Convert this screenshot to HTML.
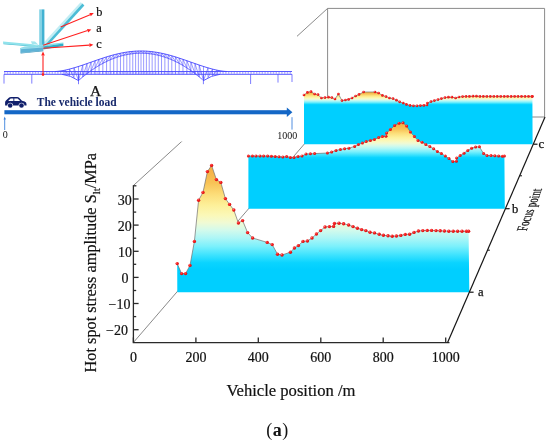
<!DOCTYPE html>
<html><head><meta charset="utf-8"><title>Figure (a)</title>
<style>html,body{margin:0;padding:0;background:#fff}body{width:550px;height:442px;overflow:hidden}</style></head>
<body>
<svg width="550" height="442" viewBox="0 0 550 442" style="display:block;font-family:'Liberation Serif',serif">
<rect width="550" height="442" fill="#fff"/>
<radialGradient id="dot" cx="0.36" cy="0.34" r="0.7"><stop offset="0" stop-color="#ff7a7a"/><stop offset="0.35" stop-color="#f62222"/><stop offset="1" stop-color="#d60c0c"/></radialGradient>
<g stroke="#8a8a8a" stroke-width="1" fill="none">
<path d="M133.4,185.5 L327.6,8.4 L544.6,8.4 L544.6,117 L532,117"/>
<path d="M327.6,8.4 L327.6,96"/>
<path d="M133.4,342.5 L327.6,117"/>
</g>
<linearGradient id="gc" gradientUnits="userSpaceOnUse" x1="0" y1="91.6" x2="0" y2="105.8">
<stop offset="0.00" stop-color="#f5ab40"/>
<stop offset="0.16" stop-color="#f8c256"/>
<stop offset="0.27" stop-color="#fcde7a"/>
<stop offset="0.37" stop-color="#fdf09a"/>
<stop offset="0.46" stop-color="#fbf8b8"/>
<stop offset="0.53" stop-color="#f0fad4"/>
<stop offset="0.60" stop-color="#d2faec"/>
<stop offset="0.67" stop-color="#aef6f6"/>
<stop offset="0.75" stop-color="#7af0fc"/>
<stop offset="0.83" stop-color="#3ce2fe"/>
<stop offset="0.90" stop-color="#0ad4ff"/>
<stop offset="0.96" stop-color="#00cfff"/>
<stop offset="1.00" stop-color="#00cfff"/>
</linearGradient>
<path d="M304.0,144.2 L304.0,95.0 L307.4,92.4 L311.0,91.6 L314.6,94.0 L318.0,94.6 L321.4,98.0 L325.0,97.6 L328.4,97.2 L331.8,97.6 L335.0,99.0 L338.4,94.0 L342.0,100.6 L345.4,100.0 L348.6,99.4 L352.0,98.0 L355.6,96.0 L359.0,94.4 L363.6,92.0 L375.0,92.0 L378.6,93.0 L382.4,95.4 L386.0,96.6 L389.4,98.0 L393.0,98.6 L396.4,100.2 L399.6,101.8 L403.2,103.1 L406.4,104.4 L410.0,105.4 L413.4,105.8 L417.0,105.8 L420.4,105.6 L423.8,105.4 L427.0,105.0 L427.4,103.0 L431.0,101.6 L434.4,100.6 L438.0,99.6 L441.4,98.6 L445.0,97.6 L448.4,97.2 L452.0,97.2 L455.6,98.0 L459.0,97.0 L462.6,96.6 L466.0,96.4 L469.4,96.4 L473.0,96.2 L476.4,96.2 L479.9,96.4 L483.3,96.4 L486.8,96.4 L490.3,96.4 L493.8,96.4 L497.2,96.4 L500.7,96.4 L504.2,96.4 L507.6,96.4 L511.1,96.4 L514.6,96.4 L518.0,96.4 L521.5,96.4 L525.0,96.4 L528.5,96.4 L531.9,96.4 L532.4,96.4 L532.6,144.2 Z" fill="url(#gc)"/>
<polyline points="304.0,95.0 307.4,92.4 311.0,91.6 314.6,94.0 318.0,94.6 321.4,98.0 325.0,97.6 328.4,97.2 331.8,97.6 335.0,99.0 338.4,94.0 342.0,100.6 345.4,100.0 348.6,99.4 352.0,98.0 355.6,96.0 359.0,94.4 363.6,92.0 375.0,92.0 378.6,93.0 382.4,95.4 386.0,96.6 389.4,98.0 393.0,98.6 396.4,100.2 399.6,101.8 403.2,103.1 406.4,104.4 410.0,105.4 413.4,105.8 417.0,105.8 420.4,105.6 423.8,105.4 427.0,105.0 427.4,103.0 431.0,101.6 434.4,100.6 438.0,99.6 441.4,98.6 445.0,97.6 448.4,97.2 452.0,97.2 455.6,98.0 459.0,97.0 462.6,96.6 466.0,96.4 469.4,96.4 473.0,96.2 476.4,96.2 479.9,96.4 483.3,96.4 486.8,96.4 490.3,96.4 493.8,96.4 497.2,96.4 500.7,96.4 504.2,96.4 507.6,96.4 511.1,96.4 514.6,96.4 518.0,96.4 521.5,96.4 525.0,96.4 528.5,96.4 531.9,96.4 532.4,96.4" fill="none" stroke="#707070" stroke-width="0.7"/>
<g fill="url(#dot)">
<circle cx="304.0" cy="95.0" r="1.35"/>
<circle cx="307.4" cy="92.4" r="1.35"/>
<circle cx="311.0" cy="91.6" r="1.35"/>
<circle cx="314.6" cy="94.0" r="1.35"/>
<circle cx="318.0" cy="94.6" r="1.35"/>
<circle cx="321.4" cy="98.0" r="1.35"/>
<circle cx="325.0" cy="97.6" r="1.35"/>
<circle cx="328.4" cy="97.2" r="1.35"/>
<circle cx="331.8" cy="97.6" r="1.35"/>
<circle cx="335.0" cy="99.0" r="1.35"/>
<circle cx="338.4" cy="94.0" r="1.35"/>
<circle cx="342.0" cy="100.6" r="1.35"/>
<circle cx="345.4" cy="100.0" r="1.35"/>
<circle cx="348.6" cy="99.4" r="1.35"/>
<circle cx="352.0" cy="98.0" r="1.35"/>
<circle cx="355.6" cy="96.0" r="1.35"/>
<circle cx="359.0" cy="94.4" r="1.35"/>
<circle cx="363.6" cy="92.0" r="1.35"/>
<circle cx="375.0" cy="92.0" r="1.35"/>
<circle cx="378.6" cy="93.0" r="1.35"/>
<circle cx="382.4" cy="95.4" r="1.35"/>
<circle cx="386.0" cy="96.6" r="1.35"/>
<circle cx="389.4" cy="98.0" r="1.35"/>
<circle cx="393.0" cy="98.6" r="1.35"/>
<circle cx="396.4" cy="100.2" r="1.35"/>
<circle cx="399.6" cy="101.8" r="1.35"/>
<circle cx="403.2" cy="103.1" r="1.35"/>
<circle cx="406.4" cy="104.4" r="1.35"/>
<circle cx="410.0" cy="105.4" r="1.35"/>
<circle cx="413.4" cy="105.8" r="1.35"/>
<circle cx="417.0" cy="105.8" r="1.35"/>
<circle cx="420.4" cy="105.6" r="1.35"/>
<circle cx="423.8" cy="105.4" r="1.35"/>
<circle cx="427.0" cy="105.0" r="1.35"/>
<circle cx="427.4" cy="103.0" r="1.35"/>
<circle cx="431.0" cy="101.6" r="1.35"/>
<circle cx="434.4" cy="100.6" r="1.35"/>
<circle cx="438.0" cy="99.6" r="1.35"/>
<circle cx="441.4" cy="98.6" r="1.35"/>
<circle cx="445.0" cy="97.6" r="1.35"/>
<circle cx="448.4" cy="97.2" r="1.35"/>
<circle cx="452.0" cy="97.2" r="1.35"/>
<circle cx="455.6" cy="98.0" r="1.35"/>
<circle cx="459.0" cy="97.0" r="1.35"/>
<circle cx="462.6" cy="96.6" r="1.35"/>
<circle cx="466.0" cy="96.4" r="1.35"/>
<circle cx="469.4" cy="96.4" r="1.35"/>
<circle cx="473.0" cy="96.2" r="1.35"/>
<circle cx="476.4" cy="96.2" r="1.35"/>
<circle cx="479.9" cy="96.4" r="1.35"/>
<circle cx="483.3" cy="96.4" r="1.35"/>
<circle cx="486.8" cy="96.4" r="1.35"/>
<circle cx="490.3" cy="96.4" r="1.35"/>
<circle cx="493.8" cy="96.4" r="1.35"/>
<circle cx="497.2" cy="96.4" r="1.35"/>
<circle cx="500.7" cy="96.4" r="1.35"/>
<circle cx="504.2" cy="96.4" r="1.35"/>
<circle cx="507.6" cy="96.4" r="1.35"/>
<circle cx="511.1" cy="96.4" r="1.35"/>
<circle cx="514.6" cy="96.4" r="1.35"/>
<circle cx="518.0" cy="96.4" r="1.35"/>
<circle cx="521.5" cy="96.4" r="1.35"/>
<circle cx="525.0" cy="96.4" r="1.35"/>
<circle cx="528.5" cy="96.4" r="1.35"/>
<circle cx="531.9" cy="96.4" r="1.35"/>
<circle cx="532.4" cy="96.4" r="1.35"/>
</g>
<linearGradient id="gb" gradientUnits="userSpaceOnUse" x1="0" y1="123.0" x2="0" y2="161.4">
<stop offset="0.00" stop-color="#f5ab40"/>
<stop offset="0.16" stop-color="#f8c256"/>
<stop offset="0.27" stop-color="#fcde7a"/>
<stop offset="0.37" stop-color="#fdf09a"/>
<stop offset="0.46" stop-color="#fbf8b8"/>
<stop offset="0.53" stop-color="#f0fad4"/>
<stop offset="0.60" stop-color="#d2faec"/>
<stop offset="0.67" stop-color="#aef6f6"/>
<stop offset="0.75" stop-color="#7af0fc"/>
<stop offset="0.83" stop-color="#3ce2fe"/>
<stop offset="0.90" stop-color="#0ad4ff"/>
<stop offset="0.96" stop-color="#00cfff"/>
<stop offset="1.00" stop-color="#00cfff"/>
</linearGradient>
<path d="M248.4,208.7 L248.4,156.0 L252.4,156.0 L256.0,156.0 L260.0,156.0 L263.6,156.0 L267.6,156.0 L271.4,156.2 L275.2,156.4 L279.0,156.8 L282.8,157.0 L286.6,156.6 L290.4,157.4 L294.0,157.4 L298.0,156.4 L302.0,156.0 L306.0,154.0 L310.4,153.8 L314.6,153.6 L327.4,153.0 L331.6,152.0 L336.0,150.4 L340.4,149.5 L344.6,148.7 L348.9,148.2 L354.6,146.4 L358.4,144.4 L362.4,143.0 L366.2,141.6 L370.4,140.4 L374.4,139.4 L378.6,137.6 L382.4,136.6 L386.0,136.2 L386.6,133.0 L390.4,129.4 L394.6,125.4 L399.0,123.2 L403.0,122.8 L406.6,126.0 L410.4,132.0 L414.4,136.6 L418.0,140.4 L422.0,142.2 L425.8,144.4 L429.8,146.6 L433.6,148.8 L437.4,151.4 L441.4,153.6 L445.3,156.0 L449.0,158.6 L452.8,161.4 L456.4,161.2 L456.6,158.0 L460.2,155.6 L464.0,153.2 L467.8,150.4 L471.6,148.2 L475.6,147.0 L479.4,146.8 L483.6,153.6 L487.0,155.6 L491.0,155.6 L494.8,155.8 L498.6,156.0 L502.4,156.2 L504.4,156.0 L504.8,208.7 Z" fill="url(#gb)"/>
<polyline points="248.4,156.0 252.4,156.0 256.0,156.0 260.0,156.0 263.6,156.0 267.6,156.0 271.4,156.2 275.2,156.4 279.0,156.8 282.8,157.0 286.6,156.6 290.4,157.4 294.0,157.4 298.0,156.4 302.0,156.0 306.0,154.0 310.4,153.8 314.6,153.6 327.4,153.0 331.6,152.0 336.0,150.4 340.4,149.5 344.6,148.7 348.9,148.2 354.6,146.4 358.4,144.4 362.4,143.0 366.2,141.6 370.4,140.4 374.4,139.4 378.6,137.6 382.4,136.6 386.0,136.2 386.6,133.0 390.4,129.4 394.6,125.4 399.0,123.2 403.0,122.8 406.6,126.0 410.4,132.0 414.4,136.6 418.0,140.4 422.0,142.2 425.8,144.4 429.8,146.6 433.6,148.8 437.4,151.4 441.4,153.6 445.3,156.0 449.0,158.6 452.8,161.4 456.4,161.2 456.6,158.0 460.2,155.6 464.0,153.2 467.8,150.4 471.6,148.2 475.6,147.0 479.4,146.8 483.6,153.6 487.0,155.6 491.0,155.6 494.8,155.8 498.6,156.0 502.4,156.2 504.4,156.0" fill="none" stroke="#707070" stroke-width="0.7"/>
<g fill="url(#dot)">
<circle cx="248.4" cy="156.0" r="1.50"/>
<circle cx="252.4" cy="156.0" r="1.50"/>
<circle cx="256.0" cy="156.0" r="1.50"/>
<circle cx="260.0" cy="156.0" r="1.50"/>
<circle cx="263.6" cy="156.0" r="1.50"/>
<circle cx="267.6" cy="156.0" r="1.50"/>
<circle cx="271.4" cy="156.2" r="1.50"/>
<circle cx="275.2" cy="156.4" r="1.50"/>
<circle cx="279.0" cy="156.8" r="1.50"/>
<circle cx="282.8" cy="157.0" r="1.50"/>
<circle cx="286.6" cy="156.6" r="1.50"/>
<circle cx="290.4" cy="157.4" r="1.50"/>
<circle cx="294.0" cy="157.4" r="1.50"/>
<circle cx="298.0" cy="156.4" r="1.50"/>
<circle cx="302.0" cy="156.0" r="1.50"/>
<circle cx="306.0" cy="154.0" r="1.50"/>
<circle cx="310.4" cy="153.8" r="1.50"/>
<circle cx="314.6" cy="153.6" r="1.50"/>
<circle cx="327.4" cy="153.0" r="1.50"/>
<circle cx="331.6" cy="152.0" r="1.50"/>
<circle cx="336.0" cy="150.4" r="1.50"/>
<circle cx="340.4" cy="149.5" r="1.50"/>
<circle cx="344.6" cy="148.7" r="1.50"/>
<circle cx="348.9" cy="148.2" r="1.50"/>
<circle cx="354.6" cy="146.4" r="1.50"/>
<circle cx="358.4" cy="144.4" r="1.50"/>
<circle cx="362.4" cy="143.0" r="1.50"/>
<circle cx="366.2" cy="141.6" r="1.50"/>
<circle cx="370.4" cy="140.4" r="1.50"/>
<circle cx="374.4" cy="139.4" r="1.50"/>
<circle cx="378.6" cy="137.6" r="1.50"/>
<circle cx="382.4" cy="136.6" r="1.50"/>
<circle cx="386.0" cy="136.2" r="1.50"/>
<circle cx="386.6" cy="133.0" r="1.50"/>
<circle cx="390.4" cy="129.4" r="1.50"/>
<circle cx="394.6" cy="125.4" r="1.50"/>
<circle cx="399.0" cy="123.2" r="1.50"/>
<circle cx="403.0" cy="122.8" r="1.50"/>
<circle cx="406.6" cy="126.0" r="1.50"/>
<circle cx="410.4" cy="132.0" r="1.50"/>
<circle cx="414.4" cy="136.6" r="1.50"/>
<circle cx="418.0" cy="140.4" r="1.50"/>
<circle cx="422.0" cy="142.2" r="1.50"/>
<circle cx="425.8" cy="144.4" r="1.50"/>
<circle cx="429.8" cy="146.6" r="1.50"/>
<circle cx="433.6" cy="148.8" r="1.50"/>
<circle cx="437.4" cy="151.4" r="1.50"/>
<circle cx="441.4" cy="153.6" r="1.50"/>
<circle cx="445.3" cy="156.0" r="1.50"/>
<circle cx="449.0" cy="158.6" r="1.50"/>
<circle cx="452.8" cy="161.4" r="1.50"/>
<circle cx="456.4" cy="161.2" r="1.50"/>
<circle cx="456.6" cy="158.0" r="1.50"/>
<circle cx="460.2" cy="155.6" r="1.50"/>
<circle cx="464.0" cy="153.2" r="1.50"/>
<circle cx="467.8" cy="150.4" r="1.50"/>
<circle cx="471.6" cy="148.2" r="1.50"/>
<circle cx="475.6" cy="147.0" r="1.50"/>
<circle cx="479.4" cy="146.8" r="1.50"/>
<circle cx="483.6" cy="153.6" r="1.50"/>
<circle cx="487.0" cy="155.6" r="1.50"/>
<circle cx="491.0" cy="155.6" r="1.50"/>
<circle cx="494.8" cy="155.8" r="1.50"/>
<circle cx="498.6" cy="156.0" r="1.50"/>
<circle cx="502.4" cy="156.2" r="1.50"/>
<circle cx="504.4" cy="156.0" r="1.50"/>
</g>
<linearGradient id="ga" gradientUnits="userSpaceOnUse" x1="0" y1="165.4" x2="0" y2="273.6">
<stop offset="0.00" stop-color="#f5ab40"/>
<stop offset="0.16" stop-color="#f8c256"/>
<stop offset="0.27" stop-color="#fcde7a"/>
<stop offset="0.37" stop-color="#fdf09a"/>
<stop offset="0.46" stop-color="#fbf8b8"/>
<stop offset="0.53" stop-color="#f0fad4"/>
<stop offset="0.60" stop-color="#d2faec"/>
<stop offset="0.67" stop-color="#aef6f6"/>
<stop offset="0.75" stop-color="#7af0fc"/>
<stop offset="0.83" stop-color="#3ce2fe"/>
<stop offset="0.90" stop-color="#0ad4ff"/>
<stop offset="0.96" stop-color="#00cfff"/>
<stop offset="1.00" stop-color="#00cfff"/>
</linearGradient>
<path d="M177.3,292.2 L177.2,263.6 L181.6,273.6 L185.6,273.6 L190.0,265.4 L194.4,241.4 L198.6,200.2 L203.0,192.4 L207.4,171.6 L211.6,165.4 L216.4,179.6 L220.8,182.4 L225.4,198.6 L229.6,204.4 L233.8,210.0 L238.4,223.0 L242.6,220.6 L247.6,232.6 L252.6,238.0 L267.2,242.4 L272.2,244.6 L277.5,254.2 L282.0,255.0 L290.4,252.2 L294.4,248.0 L298.4,245.6 L303.0,241.4 L307.4,241.0 L312.0,238.0 L316.4,234.0 L320.6,230.6 L325.0,227.0 L329.4,226.6 L333.6,226.4 L334.4,223.4 L339.0,223.2 L343.6,223.8 L348.6,225.0 L353.0,226.6 L357.4,228.2 L361.6,229.6 L365.8,230.6 L370.0,232.3 L374.5,232.9 L379.2,234.3 L383.4,235.2 L388.0,235.8 L392.2,236.2 L396.4,236.0 L400.8,235.4 L405.2,234.4 L409.6,234.2 L414.0,232.4 L418.4,231.0 L422.8,230.6 L427.2,230.4 L431.6,230.4 L436.0,230.6 L440.2,230.8 L444.4,231.0 L448.8,231.2 L453.2,231.2 L457.6,231.2 L462.0,231.2 L466.4,231.2 L468.6,231.2 L469.3,292.2 Z" fill="url(#ga)"/>
<polyline points="177.2,263.6 181.6,273.6 185.6,273.6 190.0,265.4 194.4,241.4 198.6,200.2 203.0,192.4 207.4,171.6 211.6,165.4 216.4,179.6 220.8,182.4 225.4,198.6 229.6,204.4 233.8,210.0 238.4,223.0 242.6,220.6 247.6,232.6 252.6,238.0 267.2,242.4 272.2,244.6 277.5,254.2 282.0,255.0 290.4,252.2 294.4,248.0 298.4,245.6 303.0,241.4 307.4,241.0 312.0,238.0 316.4,234.0 320.6,230.6 325.0,227.0 329.4,226.6 333.6,226.4 334.4,223.4 339.0,223.2 343.6,223.8 348.6,225.0 353.0,226.6 357.4,228.2 361.6,229.6 365.8,230.6 370.0,232.3 374.5,232.9 379.2,234.3 383.4,235.2 388.0,235.8 392.2,236.2 396.4,236.0 400.8,235.4 405.2,234.4 409.6,234.2 414.0,232.4 418.4,231.0 422.8,230.6 427.2,230.4 431.6,230.4 436.0,230.6 440.2,230.8 444.4,231.0 448.8,231.2 453.2,231.2 457.6,231.2 462.0,231.2 466.4,231.2 468.6,231.2" fill="none" stroke="#707070" stroke-width="0.7"/>
<g fill="url(#dot)">
<circle cx="177.2" cy="263.6" r="1.70"/>
<circle cx="181.6" cy="273.6" r="1.70"/>
<circle cx="185.6" cy="273.6" r="1.70"/>
<circle cx="190.0" cy="265.4" r="1.70"/>
<circle cx="194.4" cy="241.4" r="1.70"/>
<circle cx="198.6" cy="200.2" r="1.70"/>
<circle cx="203.0" cy="192.4" r="1.70"/>
<circle cx="207.4" cy="171.6" r="1.70"/>
<circle cx="211.6" cy="165.4" r="1.70"/>
<circle cx="216.4" cy="179.6" r="1.70"/>
<circle cx="220.8" cy="182.4" r="1.70"/>
<circle cx="225.4" cy="198.6" r="1.70"/>
<circle cx="229.6" cy="204.4" r="1.70"/>
<circle cx="233.8" cy="210.0" r="1.70"/>
<circle cx="238.4" cy="223.0" r="1.70"/>
<circle cx="242.6" cy="220.6" r="1.70"/>
<circle cx="247.6" cy="232.6" r="1.70"/>
<circle cx="252.6" cy="238.0" r="1.70"/>
<circle cx="267.2" cy="242.4" r="1.70"/>
<circle cx="272.2" cy="244.6" r="1.70"/>
<circle cx="277.5" cy="254.2" r="1.70"/>
<circle cx="282.0" cy="255.0" r="1.70"/>
<circle cx="290.4" cy="252.2" r="1.70"/>
<circle cx="294.4" cy="248.0" r="1.70"/>
<circle cx="298.4" cy="245.6" r="1.70"/>
<circle cx="303.0" cy="241.4" r="1.70"/>
<circle cx="307.4" cy="241.0" r="1.70"/>
<circle cx="312.0" cy="238.0" r="1.70"/>
<circle cx="316.4" cy="234.0" r="1.70"/>
<circle cx="320.6" cy="230.6" r="1.70"/>
<circle cx="325.0" cy="227.0" r="1.70"/>
<circle cx="329.4" cy="226.6" r="1.70"/>
<circle cx="333.6" cy="226.4" r="1.70"/>
<circle cx="334.4" cy="223.4" r="1.70"/>
<circle cx="339.0" cy="223.2" r="1.70"/>
<circle cx="343.6" cy="223.8" r="1.70"/>
<circle cx="348.6" cy="225.0" r="1.70"/>
<circle cx="353.0" cy="226.6" r="1.70"/>
<circle cx="357.4" cy="228.2" r="1.70"/>
<circle cx="361.6" cy="229.6" r="1.70"/>
<circle cx="365.8" cy="230.6" r="1.70"/>
<circle cx="370.0" cy="232.3" r="1.70"/>
<circle cx="374.5" cy="232.9" r="1.70"/>
<circle cx="379.2" cy="234.3" r="1.70"/>
<circle cx="383.4" cy="235.2" r="1.70"/>
<circle cx="388.0" cy="235.8" r="1.70"/>
<circle cx="392.2" cy="236.2" r="1.70"/>
<circle cx="396.4" cy="236.0" r="1.70"/>
<circle cx="400.8" cy="235.4" r="1.70"/>
<circle cx="405.2" cy="234.4" r="1.70"/>
<circle cx="409.6" cy="234.2" r="1.70"/>
<circle cx="414.0" cy="232.4" r="1.70"/>
<circle cx="418.4" cy="231.0" r="1.70"/>
<circle cx="422.8" cy="230.6" r="1.70"/>
<circle cx="427.2" cy="230.4" r="1.70"/>
<circle cx="431.6" cy="230.4" r="1.70"/>
<circle cx="436.0" cy="230.6" r="1.70"/>
<circle cx="440.2" cy="230.8" r="1.70"/>
<circle cx="444.4" cy="231.0" r="1.70"/>
<circle cx="448.8" cy="231.2" r="1.70"/>
<circle cx="453.2" cy="231.2" r="1.70"/>
<circle cx="457.6" cy="231.2" r="1.70"/>
<circle cx="462.0" cy="231.2" r="1.70"/>
<circle cx="466.4" cy="231.2" r="1.70"/>
<circle cx="468.6" cy="231.2" r="1.70"/>
</g>
<rect x="0" y="0" width="297" height="141.5" fill="#fff"/>
<g stroke="#2a2a2a" stroke-width="1.3" fill="none">
<path d="M133.4,185.2 L133.4,342.6 L449.5,342.6"/>
<path d="M133.4,199.0 h5.2"/>
<path d="M133.4,225.1 h5.2"/>
<path d="M133.4,251.3 h5.2"/>
<path d="M133.4,277.4 h5.2"/>
<path d="M133.4,303.5 h5.2"/>
<path d="M133.4,329.7 h5.2"/>
<path d="M133.4,212.1 h2.8"/>
<path d="M133.4,238.2 h2.8"/>
<path d="M133.4,264.3 h2.8"/>
<path d="M133.4,290.5 h2.8"/>
<path d="M133.4,316.6 h2.8"/>
<path d="M133.4,185.8 h3"/>
<path d="M133.4,342.6 v-5.2"/>
<path d="M195.9,342.6 v-5.2"/>
<path d="M258.3,342.6 v-5.2"/>
<path d="M320.8,342.6 v-5.2"/>
<path d="M383.2,342.6 v-5.2"/>
<path d="M445.7,342.6 v-5.2"/>
</g>
<g stroke="#151515" stroke-width="1.2" fill="none">
<path d="M447.6,342.6 L545,117"/>
<path d="M533.3,144.2 h4.2" stroke-width="1.2"/>
<path d="M505.4,208.7 h4.2" stroke-width="1.2"/>
<path d="M469.4,292.2 h4.2" stroke-width="1.2"/>
<path d="M519.6,175.8 h2.4" stroke-width="1"/>
<path d="M487.5,250.2 h2.4" stroke-width="1"/>
</g>
<g font-size="14" fill="#111" stroke="#111" stroke-width="0.2">
<text x="131.7" y="205.0" text-anchor="end">30</text>
<text x="131.7" y="231.3" text-anchor="end">20</text>
<text x="131.9" y="257.2" text-anchor="end">10</text>
<text x="128.6" y="282.6" text-anchor="end">0</text>
<text x="130.5" y="308.6" text-anchor="end">−10</text>
<text x="128.0" y="334.5" text-anchor="end">−20</text>
<text x="133.4" y="362" text-anchor="middle">0</text>
<text x="195.9" y="362" text-anchor="middle">200</text>
<text x="258.3" y="362" text-anchor="middle">400</text>
<text x="320.8" y="362" text-anchor="middle">600</text>
<text x="383.2" y="362" text-anchor="middle">800</text>
<text x="445.7" y="362" text-anchor="middle">1000</text>
</g>
<g font-size="12.6" fill="#111" stroke="#111" stroke-width="0.25">
<text x="538.6" y="148">c</text>
<text x="512.1" y="212.5">b</text>
<text x="477.9" y="295.6">a</text>
</g>
<text x="226.4" y="396.3" font-size="16.6" fill="#111" stroke="#111" stroke-width="0.2">Vehicle position /m</text>
<text transform="translate(96.2,372.4) rotate(-90)" font-size="16.6" textLength="219.4" lengthAdjust="spacingAndGlyphs" fill="#111" stroke="#111" stroke-width="0.2">Hot spot stress amplitude S<tspan font-size="11" dy="3.6">lt</tspan><tspan dy="-3.6">/MPa</tspan></text>
<text transform="matrix(0.225,-0.6,1,0,526.4,231)" font-size="15" fill="#111" stroke="#111" stroke-width="0.25">Focus point</text>
<text x="277.5" y="435.5" font-size="18" letter-spacing="0.5" text-anchor="middle" fill="#111">(<tspan font-weight="bold">a</tspan>)</text>
<g stroke="#4646ff" stroke-width="0.7" fill="none">
<path d="M4,71.5 H292 M4,74.3 H292" stroke-width="0.9"/>
<path d="M4,72.9 H292" stroke-width="1.8" stroke-dasharray="1.4 1.4" stroke-opacity="0.4"/>
<path d="M4.0,74.3 V83.6"/>
<path d="M31.8,74.3 V83.6"/>
<path d="M78.5,74.3 V84.2"/>
<path d="M203.4,74.3 V84.2"/>
<path d="M250.6,74.3 V84.0"/>
<path d="M278.0,74.3 V82.6"/>
<path d="M292.0,74.3 V82.0"/>
<polyline points="55.0,71.50 56.0,71.47 57.0,71.40 58.0,71.30 59.0,71.19 60.0,71.06 61.0,70.91 62.0,70.74 63.0,70.56 64.0,70.37 65.0,70.16 66.0,69.94 67.0,69.72 68.0,69.48 69.0,69.23 70.0,68.97 71.0,68.70 72.0,68.42 73.0,68.14 74.0,67.85 75.0,67.55 76.0,67.25 77.0,66.94 78.0,66.62 79.0,66.30 80.0,65.97 81.0,65.64 82.0,65.30 83.0,64.97 84.0,64.62 85.0,64.28 86.0,63.93 87.0,63.58 88.0,63.23 89.0,62.88 90.0,62.53 91.0,62.18 92.0,61.82 93.0,61.47 94.0,61.12 95.0,60.77 96.0,60.42 97.0,60.07 98.0,59.73 99.0,59.38 100.0,59.04 101.0,58.71 102.0,58.37 103.0,58.04 104.0,57.72 105.0,57.40 106.0,57.08 107.0,56.77 108.0,56.47 109.0,56.17 110.0,55.87 111.0,55.59 112.0,55.31 113.0,55.03 114.0,54.77 115.0,54.51 116.0,54.26 117.0,54.01 118.0,53.78 119.0,53.55 120.0,53.33 121.0,53.12 122.0,52.92 123.0,52.73 124.0,52.55 125.0,52.37 126.0,52.21 127.0,52.06 128.0,51.91 129.0,51.78 130.0,51.66 131.0,51.54 132.0,51.44 133.0,51.35 134.0,51.27 135.0,51.20 136.0,51.14 137.0,51.09 138.0,51.05 139.0,51.02 140.0,51.01 141.0,51.00 142.0,51.01 143.0,51.02 144.0,51.05 145.0,51.09 146.0,51.14 147.0,51.20 148.0,51.27 149.0,51.35 150.0,51.44 151.0,51.54 152.0,51.66 153.0,51.78 154.0,51.91 155.0,52.06 156.0,52.21 157.0,52.37 158.0,52.55 159.0,52.73 160.0,52.92 161.0,53.12 162.0,53.33 163.0,53.55 164.0,53.78 165.0,54.01 166.0,54.26 167.0,54.51 168.0,54.77 169.0,55.03 170.0,55.31 171.0,55.59 172.0,55.87 173.0,56.17 174.0,56.47 175.0,56.77 176.0,57.08 177.0,57.40 178.0,57.72 179.0,58.04 180.0,58.37 181.0,58.71 182.0,59.04 183.0,59.38 184.0,59.73 185.0,60.07 186.0,60.42 187.0,60.77 188.0,61.12 189.0,61.47 190.0,61.82 191.0,62.18 192.0,62.53 193.0,62.88 194.0,63.23 195.0,63.58 196.0,63.93 197.0,64.28 198.0,64.62 199.0,64.97 200.0,65.30 201.0,65.64 202.0,65.97 203.0,66.30 204.0,66.62 205.0,66.94 206.0,67.25 207.0,67.55 208.0,67.85 209.0,68.14 210.0,68.42 211.0,68.70 212.0,68.97 213.0,69.23 214.0,69.48 215.0,69.72 216.0,69.94 217.0,70.16 218.0,70.37 219.0,70.56 220.0,70.74 221.0,70.91 222.0,71.06 223.0,71.19 224.0,71.30 225.0,71.40 226.0,71.47 227.0,71.50" stroke-width="0.9"/>
<polyline points="78.5,80.54 79.5,79.68 80.5,78.82 81.5,77.98 82.5,77.16 83.5,76.34 84.5,75.55 85.5,74.76 86.5,73.99 87.5,73.24 88.5,72.49 89.5,71.77 90.5,71.05 91.5,70.35 92.5,69.67 93.5,68.99 94.5,68.34 95.5,67.69 96.5,67.06 97.5,66.45 98.5,65.84 99.5,65.26 100.5,64.68 101.5,64.12 102.5,63.58 103.5,63.04 104.5,62.53 105.5,62.02 106.5,61.53 107.5,61.06 108.5,60.59 109.5,60.15 110.5,59.71 111.5,59.29 112.5,58.89 113.5,58.49 114.5,58.12 115.5,57.75 116.5,57.40 117.5,57.07 118.5,56.74 119.5,56.44 120.5,56.14 121.5,55.86 122.5,55.60 123.5,55.34 124.5,55.11 125.5,54.88 126.5,54.67 127.5,54.48 128.5,54.29 129.5,54.13 130.5,53.97 131.5,53.83 132.5,53.71 133.5,53.59 134.5,53.50 135.5,53.41 136.5,53.34 137.5,53.29 138.5,53.24 139.5,53.22 140.5,53.20 141.5,53.20 142.5,53.22 143.5,53.24 144.5,53.29 145.5,53.34 146.5,53.41 147.5,53.50 148.5,53.59 149.5,53.71 150.5,53.83 151.5,53.97 152.5,54.13 153.5,54.29 154.5,54.48 155.5,54.67 156.5,54.88 157.5,55.11 158.5,55.34 159.5,55.60 160.5,55.86 161.5,56.14 162.5,56.44 163.5,56.74 164.5,57.07 165.5,57.40 166.5,57.75 167.5,58.12 168.5,58.49 169.5,58.89 170.5,59.29 171.5,59.71 172.5,60.15 173.5,60.59 174.5,61.06 175.5,61.53 176.5,62.02 177.5,62.53 178.5,63.04 179.5,63.58 180.5,64.12 181.5,64.68 182.5,65.26 183.5,65.84 184.5,66.45 185.5,67.06 186.5,67.69 187.5,68.34 188.5,68.99 189.5,69.67 190.5,70.35 191.5,71.05 192.5,71.77 193.5,72.49 194.5,73.24 195.5,73.99 196.5,74.76 197.5,75.55 198.5,76.34 199.5,77.16 200.5,77.98 201.5,78.82 202.5,79.68" stroke-width="0.9"/>
<path d="M78.5,80.6 Q71,75.4 62,74.3 M203.5,80.6 Q211,75.4 220,74.3" stroke-width="0.9"/>
<path d="M78.50,66.46 V80.54 M82.80,65.03 V76.91 M87.01,63.58 V74.30 M91.12,62.13 V74.30 M95.13,60.72 V74.30 M99.04,59.37 V74.30 M102.85,58.09 V74.30 M106.57,56.90 V74.30 M110.19,55.82 V74.30 M113.71,54.84 V74.30 M117.13,53.98 V74.30 M120.46,53.23 V74.30 M123.69,52.60 V74.30 M126.82,52.08 V74.30 M129.85,51.67 V74.30 M132.78,51.37 V74.30 M135.62,51.16 V74.30 M138.36,51.04 V74.30 M141.00,51.00 V74.30 M143.64,51.04 V74.30 M146.38,51.16 V74.30 M149.22,51.37 V74.30 M152.15,51.67 V74.30 M155.18,52.08 V74.30 M158.31,52.60 V74.30 M161.54,53.23 V74.30 M164.87,53.98 V74.30 M168.29,54.84 V74.30 M171.81,55.82 V74.30 M175.43,56.90 V74.30 M179.15,58.09 V74.30 M182.96,59.37 V74.30 M186.87,60.72 V74.30 M190.88,62.13 V74.30 M194.99,63.58 V74.30 M199.20,65.03 V76.91 M203.50,66.46 V80.54 M78.50,80.54 L82.80,65.03 M82.80,76.91 L87.01,63.58 M87.01,73.60 L91.12,62.13 M91.12,70.62 L95.13,60.72 M95.13,67.93 L99.04,59.37 M99.04,65.52 L102.85,58.09 M102.85,63.39 L106.57,56.90 M106.57,61.50 L110.19,55.82 M110.19,59.84 L113.71,54.84 M113.71,58.41 L117.13,53.98 M117.13,57.19 L120.46,53.23 M120.46,56.15 L123.69,52.60 M123.69,55.30 L126.82,52.08 M126.82,54.61 L129.85,51.67 M129.85,54.07 L132.78,51.37 M132.78,53.67 L135.62,51.16 M135.62,53.40 L138.36,51.04 M138.36,53.25 L141.00,51.00 M141.00,51.00 L143.64,53.25 M143.64,51.04 L146.38,53.40 M146.38,51.16 L149.22,53.67 M149.22,51.37 L152.15,54.07 M152.15,51.67 L155.18,54.61 M155.18,52.08 L158.31,55.30 M158.31,52.60 L161.54,56.15 M161.54,53.23 L164.87,57.19 M164.87,53.98 L168.29,58.41 M168.29,54.84 L171.81,59.84 M171.81,55.82 L175.43,61.50 M175.43,56.90 L179.15,63.39 M179.15,58.09 L182.96,65.52 M182.96,59.37 L186.87,67.93 M186.87,60.72 L190.88,70.62 M190.88,62.13 L194.99,73.60 M194.99,63.58 L199.20,76.91 M199.20,65.03 L203.50,80.54" stroke-width="0.55"/>
<path d="M65.00,70.16 V74.51 M217.00,70.16 V74.51 M69.50,69.10 V75.60 M212.50,69.10 V75.60 M74.00,67.85 V77.63 M208.00,67.85 V77.63 M65.00,70.16 L69.50,75.60 M217.00,70.16 L212.50,75.60 M69.50,69.10 L74.00,77.63 M212.50,69.10 L208.00,77.63 M74.00,67.85 L78.50,80.60 M208.00,67.85 L203.50,80.60" stroke-width="0.55"/>
</g>
<g>
<polygon points="3,41.6 33,44.2 38,46.2 3.2,43.6" fill="#8fe3ec"/>
<polygon points="3.2,43.6 38,46.2 38,47 3.5,44.3" fill="#48c0d4"/>
<polygon points="31,41.2 35,41.6 38.5,44.8 32,44.2" fill="#a4e6ee"/>
<polygon points="42.2,44.2 80.6,2.2 82.4,3.6 44.0,46.0" fill="#c2edf4"/>
<polygon points="44.0,46.0 82.4,3.6 84.4,5.4 46.0,47.4" fill="#4cbdd6"/>
<rect x="39.2" y="9.4" width="2.4" height="37.5" fill="#84d4e6"/>
<rect x="41.6" y="9.4" width="2.8" height="37.5" fill="#42b2d2"/>
<polygon points="20.4,48.1 24.5,46.6 63.4,42.6 63.4,43.6 43.3,46.6" fill="#8adfe9"/>
<polygon points="43.3,46.5 63.4,43.4 63.4,46.0 43.3,49.6" fill="#31afc9"/>
<polygon points="20.4,48.1 43.3,46.5 43.3,50.6 20.4,52.9" fill="#5fb3d6"/>
<polygon points="20.4,52.9 43.3,50.6 43.3,51.2 20.8,53.4" fill="#3796bd"/>
<polygon points="20.4,48.1 43.3,46.5 43.3,47.6 20.4,49.3" fill="#9adfec"/>
</g>
<g stroke="#ff2020" stroke-width="1.1" fill="#ff2020">
<path d="M60.6,27.1 L90.1,14.7" fill="none"/>
<polygon stroke="none" points="93.8,13.1 90.8,16.3 89.4,13.0"/>
<path d="M43.2,45.2 L87.6,30.6" fill="none"/>
<polygon stroke="none" points="91.4,29.4 88.2,32.4 87.0,28.9"/>
<path d="M43.2,48.3 L89.4,45.1" fill="none"/>
<polygon stroke="none" points="93.4,44.8 89.5,46.9 89.3,43.3"/>
<path d="M43.0,74.5 L43.0,55.6" fill="none"/>
<polygon stroke="none" points="43.0,51.6 44.8,55.6 41.2,55.6"/>
<circle cx="43" cy="74.6" r="1.3" stroke="none"/>
</g>
<g font-size="12.3" fill="#111" stroke="#111" stroke-width="0.2">
<text x="96.2" y="15.9">b</text>
<text x="96.2" y="31.8">a</text>
<text x="96.2" y="48">c</text>
</g>
<text x="95.5" y="96" font-size="15.5" text-anchor="middle" fill="#111" stroke="#111" stroke-width="0.25">A</text>
<rect x="4.4" y="110.2" width="283.5" height="4.1" fill="#1467c6"/>
<polygon points="286.8,107.6 292.4,112.25 286.8,116.9" fill="#1467c6"/>
<path d="M4.7,130 V118 M292,129.6 V117.2" stroke="#3c82dc" stroke-width="0.9" fill="none"/>
<polygon points="4.7,116.4 3.6,119.4 5.8,119.4" fill="#3c82dc"/>
<g font-size="10" fill="#111">
<text x="5.2" y="138.4" text-anchor="middle">0</text>
<text x="287.3" y="138.5" text-anchor="middle">1000</text>
</g>
<text x="36.8" y="106.4" font-size="11.5" font-weight="bold" fill="#16286b">The vehicle load</text>
<path fill="#101f6b" d="M5.1,105.6 L5.1,102.3 Q5.2,101.2 6,100.5 L9.1,97.6 Q9.8,96.9 11,96.9 L17.2,96.9 Q18.2,96.9 18.9,97.6 L22,100.8 L24.6,101.4 Q26.5,102 26.5,104 L26.5,105.6 Z"/>
<path d="M8.2,101.1 L10.6,98.6 L13.4,98.6 L13.4,101.1 Z M14.3,98.6 L17.6,98.6 L20.2,101.1 L14.3,101.1 Z" fill="#fff"/>
<circle cx="10.2" cy="105.5" r="2.85" fill="#fff"/><circle cx="21.5" cy="105.5" r="2.85" fill="#fff"/>
<circle cx="10.2" cy="105.5" r="2.3" fill="#101f6b"/><circle cx="21.5" cy="105.5" r="2.3" fill="#101f6b"/>
</svg>
</body></html>
